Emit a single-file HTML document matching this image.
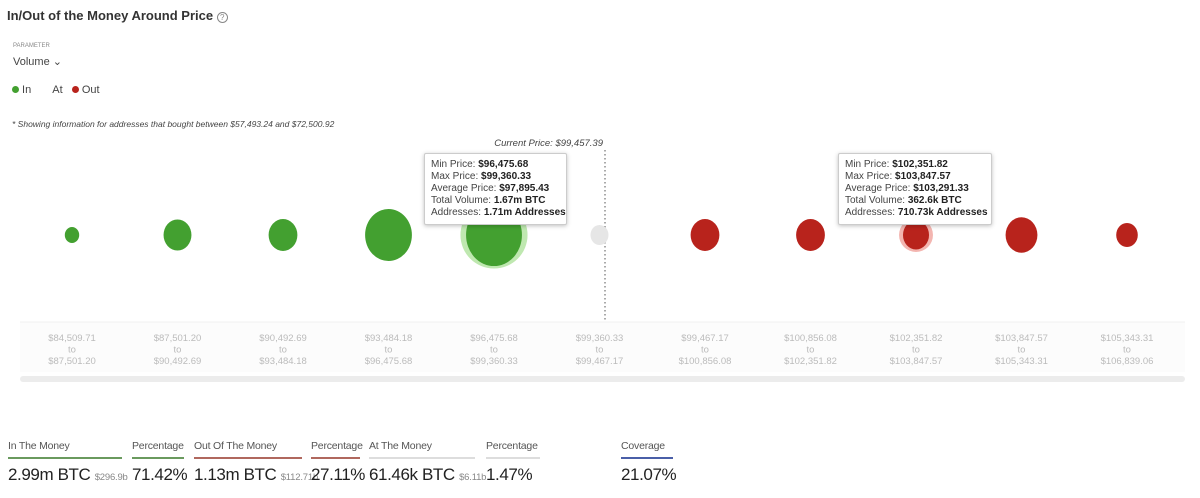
<!DOCTYPE html>
<html><head><meta charset="utf-8"><style>
body{margin:0;width:1200px;height:498px;background:#fff;font-family:"Liberation Sans",sans-serif;color:#333;position:relative;overflow:hidden}
.a{position:absolute;white-space:nowrap}
.lbl{font-size:10.5px;color:#555;top:440px;letter-spacing:-0.2px}
.ul{height:2px;top:457px}
.val{font-size:17px;color:#222;top:465px;letter-spacing:-0.4px}
.val small{font-size:9.5px;color:#888;letter-spacing:-0.2px}
.tt{position:absolute;background:#fff;border:1px solid #ccc;box-shadow:0 1px 4px rgba(0,0,0,.25);font-size:10px;line-height:12px;padding:5px 6px;color:#444;border-radius:2px;white-space:nowrap}
.tt b{color:#222}
</style></head><body>
<div class="a" style="left:7px;top:8px;font-size:13px;font-weight:bold;color:#333">In/Out of the Money Around Price <span style="display:inline-block;width:9px;height:9px;border:1px solid #888;border-radius:50%;font-size:8px;line-height:9px;text-align:center;color:#888;font-weight:normal">?</span></div>
<div class="a" style="left:13px;top:43px;font-size:6px;color:#888">PARAMETER</div>
<div class="a" style="left:13px;top:55px;font-size:11px;color:#444">Volume ⌄</div>
<div class="a" style="left:12px;top:84px;font-size:11px;color:#444">
<span><span style="display:inline-block;width:7px;height:7px;border-radius:50%;background:#43a030"></span> In</span>
<span style="margin-left:18px">At</span>
<span style="margin-left:6px"><span style="display:inline-block;width:7px;height:7px;border-radius:50%;background:#b8231c"></span> Out</span></div>
<div class="a" style="left:12px;top:119px;font-size:8.5px;font-style:italic;color:#444">* Showing information for addresses that bought between $57,493.24 and $72,500.92</div>
<svg class="a" style="left:0;top:0" width="1200" height="400" id="chart"></svg>
<div class="tt" style="left:424px;top:153px;width:129px">Min Price: <b>$96,475.68</b><br>Max Price: <b>$99,360.33</b><br>Average Price: <b>$97,895.43</b><br>Total Volume: <b>1.67m BTC</b><br>Addresses: <b>1.71m Addresses</b></div>
<div class="tt" style="left:838px;top:153px;width:140px">Min Price: <b>$102,351.82</b><br>Max Price: <b>$103,847.57</b><br>Average Price: <b>$103,291.33</b><br>Total Volume: <b>362.6k BTC</b><br>Addresses: <b>710.73k Addresses</b></div>

<div class="a lbl" style="left:8px">In The Money</div>
<div class="a ul" style="left:8px;width:114px;background:#6a9a5e"></div>
<div class="a val" style="left:8px">2.99m BTC <small>$296.9b</small></div>
<div class="a lbl" style="left:132px">Percentage</div>
<div class="a ul" style="left:132px;width:52px;background:#6a9a5e"></div>
<div class="a val" style="left:132px">71.42%</div>
<div class="a lbl" style="left:194px">Out Of The Money</div>
<div class="a ul" style="left:194px;width:108px;background:#b0685e"></div>
<div class="a val" style="left:194px">1.13m BTC <small>$112.71b</small></div>
<div class="a lbl" style="left:311px">Percentage</div>
<div class="a ul" style="left:311px;width:49px;background:#b0685e"></div>
<div class="a val" style="left:311px">27.11%</div>
<div class="a lbl" style="left:369px">At The Money</div>
<div class="a ul" style="left:369px;width:106px;background:#ddd"></div>
<div class="a val" style="left:369px">61.46k BTC <small>$6.11b</small></div>
<div class="a lbl" style="left:486px">Percentage</div>
<div class="a ul" style="left:486px;width:54px;background:#ddd"></div>
<div class="a val" style="left:486px">1.47%</div>
<div class="a lbl" style="left:621px">Coverage</div>
<div class="a ul" style="left:621px;width:52px;background:#4a5fa8"></div>
<div class="a val" style="left:621px">21.07%</div>
<script>
const ranges=[["$84,509.71","$87,501.20"],["$87,501.20","$90,492.69"],["$90,492.69","$93,484.18"],["$93,484.18","$96,475.68"],["$96,475.68","$99,360.33"],["$99,360.33","$99,467.17"],["$99,467.17","$100,856.08"],["$100,856.08","$102,351.82"],["$102,351.82","$103,847.57"],["$103,847.57","$105,343.31"],["$105,343.31","$106,839.06"]];
const volumes=[111,416,443,1170,1670,173,443,443,362.6,542,249];
const status=["in","in","in","in","in","at","out","out","out","out","out"];
const hovered=[4,8];
const S="http://www.w3.org/2000/svg",svg=document.getElementById('chart');
const x0=72,step=105.5,cy=235,k=0.76;
const xs=i=>x0+i*step, rs=v=>k*Math.sqrt(v);
const col={in:"#43a030",at:"#e6e6e6",out:"#b8231c"},ring={in:"#bfe8b0",at:"#eee",out:"#f3b5b0"};
function mk(t,a){const e=document.createElementNS(S,t);for(const q in a)e.setAttribute(q,a[q]);svg.appendChild(e);return e;}
let r=mk('rect',{x:20,y:322,width:1165,height:50,fill:"#fcfcfc"});


mk('line',{x1:20,y1:322,x2:1185,y2:322,stroke:"#f0f0f0"});
let sb=mk('rect',{x:20,y:376,width:1165,height:6,rx:3,fill:"#ececec"});


let cl=mk('line',{x1:605,y1:150,x2:605,y2:322,stroke:"#555","stroke-dasharray":"1.5,2.5"});


let ct=mk('text',{x:603,y:146,"text-anchor":"end","font-size":"9.5","font-style":"italic",fill:"#444"});
ct.textContent="Current Price: $99,457.39";


volumes.forEach((v,i)=>{
 const x=xs(i),rr=rs(v);
 if(hovered.includes(i)){mk('ellipse',{cx:x,cy:cy,rx:rr+2.5,ry:rr+2.5,fill:ring[status[i]]});}
 const e=mk('ellipse',{cx:x,cy:cy,rx:rr*0.9,ry:rr,fill:col[status[i]]});
 
 
 const t=mk('text',{x:x,y:341,"text-anchor":"middle","font-size":"9.5",fill:"#bbb"});
 
 
 [ranges[i][0],"to",ranges[i][1]].forEach((s,j)=>{const sp=document.createElementNS(S,'tspan');sp.setAttribute('x',x);sp.setAttribute('dy',j?11.5:0);sp.textContent=s;t.appendChild(sp);});
});
</script>
</body></html>
